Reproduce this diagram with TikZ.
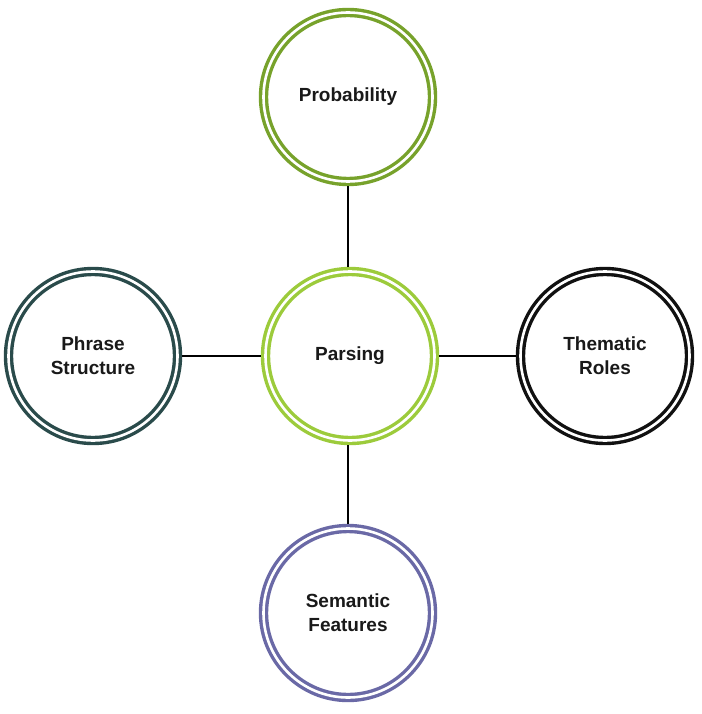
\documentclass[tikz,border=0pt]{standalone}
\usepackage{fontspec}
\setmainfont{Liberation Sans}
\definecolor{probgreen}{HTML}{77A22B}
\definecolor{parsegreen}{HTML}{9CCB3B}
\definecolor{phraseteal}{HTML}{2A4B4B}
\definecolor{thematicblack}{HTML}{111111}
\definecolor{semanticblue}{HTML}{6A69A6}
\tikzset{
  ring/.style={circle, draw=#1, line width=3.4pt, double=white, double distance=2.6pt,
    minimum size=169pt, inner sep=0pt, outer sep=4.7pt, align=center,
    font=\fontsize{19}{24}\selectfont\bfseries, text=black!90},
  link/.style={draw=black, line width=2pt}
}
\begin{document}
\begin{tikzpicture}[x=1pt,y=-1pt]
\useasboundingbox[fill=white] (0,0) rectangle (701,714);
\node[ring=parsegreen] (parse) at (350,356) {Parsing};
\node[ring=probgreen] (prob) at (348,97) {Probability};
\node[ring=phraseteal] (phrase) at (93,356) {Phrase\\Structure};
\node[ring=thematicblack] (them) at (605,356) {Thematic\\Roles};
\node[ring=semanticblue] (sem) at (348,613) {Semantic\\Features};
\draw[link] (prob.south) -- (parse.north -| prob.south);
\draw[link] (phrase.east) -- (parse.west);
\draw[link] (parse.east) -- (them.west);
\draw[link] (sem.north) -- (parse.south -| sem.north);
\end{tikzpicture}
\end{document}
